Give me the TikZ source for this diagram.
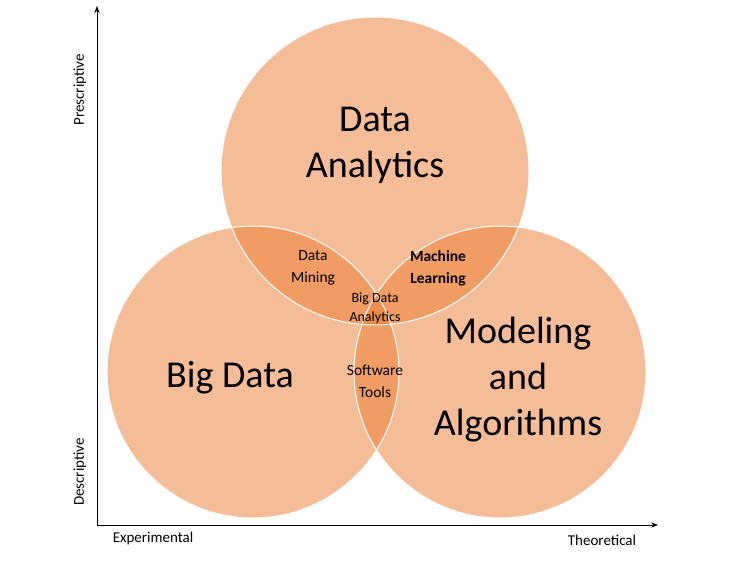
\documentclass[tikz,border=0pt]{standalone}
\usepackage{fontspec}
\setmainfont{Carlito}
\usetikzlibrary{arrows.meta}
\definecolor{venn}{HTML}{ED7D31}
\tikzset{
  set/.style={circle, minimum size=292pt, inner sep=0pt, fill=venn, fill opacity=0.5, draw=none},
  rim/.style={circle, minimum size=292pt, inner sep=0pt, draw=white, line width=1pt},
  big/.style={align=center, font=\fontsize{38}{46}\selectfont},
  small/.style={align=center, font=\fontsize{15.5}{22}\selectfont},
  axis/.style={-{Stealth[length=7pt]}, line width=0.8pt},
  axlabel/.style={font=\fontsize{15}{18}\selectfont}
}
\begin{document}
\begin{tikzpicture}[x=1pt, y=-1pt]
   \useasboundingbox (0,0) rectangle (750,562);
   \fill[white] (0,0) rectangle (750,562);
   % the three sets
   \node[set, minimum size=308pt] (da) at (375,171) {};
   \node[set] (bd) at (253,372) {};
   \node[set] (ma) at (500,372) {};
   \node[rim, minimum size=308pt] at (da) {};
   \node[rim] at (bd) {};
   \node[rim] at (ma) {};
   % axes
   \coordinate (o) at (97,525);
   \coordinate (top) at (97,6);
   \coordinate (right) at (658,525);
   \draw[axis] (o) -- (top);
   \draw[axis] (o) -- (right);
   \node[axlabel, rotate=90] (pre) at (80,90) {Prescriptive};
   \node[axlabel, rotate=90] (des) at (80,472) {Descriptive};
   \node[axlabel] (exp) at (153,538) {Experimental};
   \node[axlabel] (the) at (602,540) {Theoretical};
   % labels
   \node[big] (tda) at (375,145) {Data\\Analytics};
   \node[big] (tbd) at (230,378) {Big Data};
   \node[big] (tma) at (518,380) {Modeling\\and\\Algorithms};
   \node[small] (dm) at (313,268) {Data\\Mining};
   \node[small, font=\fontsize{15.5}{22}\selectfont\bfseries] (ml) at (438,268) {Machine\\Learning};
   \node[small, font=\fontsize{14}{19}\selectfont] (bda) at (375,308) {Big Data\\Analytics};
   \node[small] (st) at (375,381) {Software\\Tools};
\end{tikzpicture}
\end{document}
